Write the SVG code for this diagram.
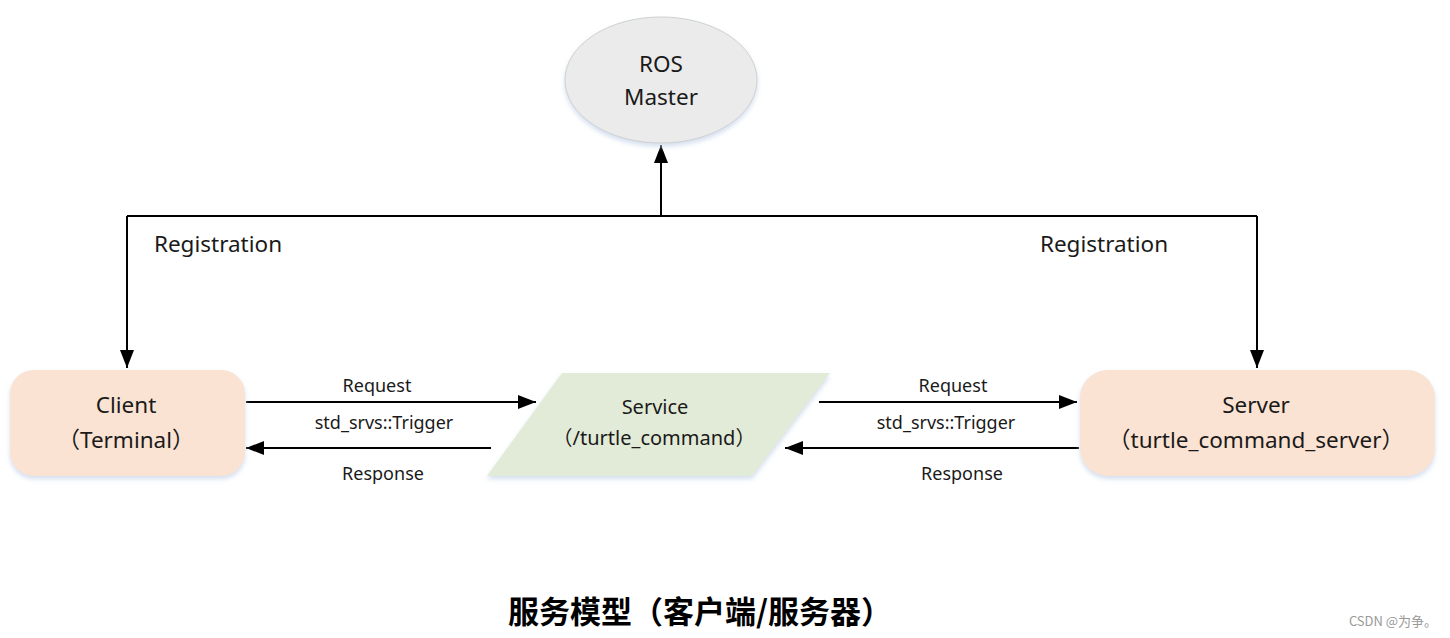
<svg xmlns="http://www.w3.org/2000/svg" width="1450" height="638" viewBox="0 0 1450 638">
<defs>
<marker id="ah" viewBox="0 0 18 14" refX="18" refY="7" markerWidth="18" markerHeight="14" markerUnits="userSpaceOnUse" orient="auto">
<path d="M0,0 L18,7 L0,14 z" fill="#000"/>
</marker>
<filter id="sh" x="-10%" y="-10%" width="120%" height="130%">
<feDropShadow dx="0" dy="3" stdDeviation="2.5" flood-color="#c8d6ea" flood-opacity="0.8"/>
</filter>
<style>
.t{font-family:"Noto Sans","Noto Sans CJK SC",sans-serif;fill:#1a1a1a;text-anchor:middle}
.n{font-size:22.5px}
.s{font-size:18px}
.l{fill:none;stroke:#000;stroke-width:2}
.peach{fill:#fbe3d3}
</style>
</defs>
<rect width="1450" height="638" fill="#fff"/>
<g id="connectors">
<polyline class="l" points="127,216 1257,216"/>
<line class="l" x1="661" y1="216" x2="661" y2="145" marker-end="url(#ah)"/>
<line class="l" x1="127" y1="216" x2="127" y2="368" marker-end="url(#ah)"/>
<line class="l" x1="1257" y1="216" x2="1257" y2="368" marker-end="url(#ah)"/>
<line class="l" x1="246" y1="402" x2="536" y2="402" marker-end="url(#ah)"/>
<line class="l" x1="491" y1="448" x2="246" y2="448" marker-end="url(#ah)"/>
<line class="l" x1="819" y1="402" x2="1077" y2="402" marker-end="url(#ah)"/>
<line class="l" x1="1079" y1="448" x2="785" y2="448" marker-end="url(#ah)"/>
<text class="t n" x="218" y="252">Registration</text>
<text class="t n" x="1104" y="252">Registration</text>
<text class="t s" x="377" y="392">Request</text>
<text class="t s" x="384" y="429">std_srvs::Trigger</text>
<text class="t s" x="383" y="480">Response</text>
<text class="t s" x="953" y="392">Request</text>
<text class="t s" x="946" y="429">std_srvs::Trigger</text>
<text class="t s" x="962" y="480">Response</text>
</g>
<g id="ros_master">
<ellipse cx="661" cy="80" rx="96" ry="63" fill="#ebebeb" stroke="#d0d0d0" stroke-width="1" filter="url(#sh)"/>
<text class="t n" x="661" y="72">ROS</text>
<text class="t n" x="661" y="105">Master</text>
</g>
<g id="client">
<rect x="10" y="370" width="235" height="106" rx="24" class="peach" filter="url(#sh)"/>
<text class="t n" x="126" y="413">Client</text>
<text class="t n" x="126" y="448">（Terminal）</text>
</g>
<g id="service">
<polygon points="562,373 830,373 752,476 487,476" fill="#e2ebd7" filter="url(#sh)"/>
<text class="t n" x="655" y="414" style="font-size:20px">Service</text>
<text class="t n" x="654" y="445" style="font-size:20px">（/turtle_command）</text>
</g>
<g id="server">
<rect x="1080" y="370" width="355" height="106" rx="28" class="peach" filter="url(#sh)"/>
<text class="t n" x="1256" y="413">Server</text>
<text class="t n" x="1256" y="448">（turtle_command_server）</text>
</g>
<text x="700" y="623" style="font-family:'Noto Sans CJK SC',sans-serif;font-size:31px;font-weight:bold;text-anchor:middle;fill:#000">服务模型（客户端/服务器）</text>
<text x="1393" y="626" style="font-family:'Noto Sans CJK SC',sans-serif;font-size:13px;text-anchor:middle;fill:#999">CSDN @为争。</text>
</svg>
